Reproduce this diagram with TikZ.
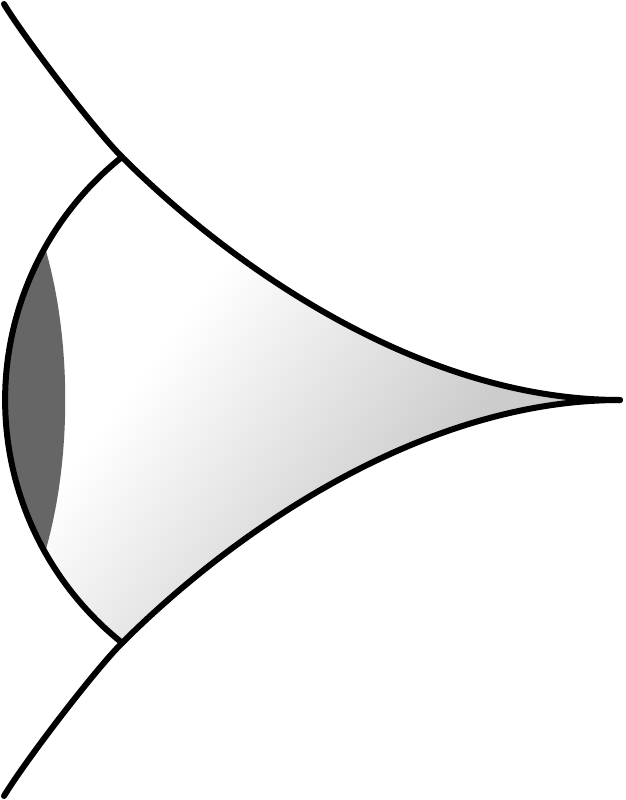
\documentclass[tikz,border=0pt]{standalone}
\pgfdeclarehorizontalshading{eyefade}{100bp}{color(0bp)=(white); color(37bp)=(white); color(63bp)=(black!20); color(100bp)=(black!20)}
\tikzset{edge/.style={line width=6pt, line cap=round}}
\begin{document}
\begin{tikzpicture}[x=1pt, y=-1pt]
\useasboundingbox (0,0) rectangle (626,800);
\coordinate (tl) at (4,4);
\coordinate (tj) at (122,157);
\coordinate (tip) at (620,400);
\coordinate (bj) at (122,643);
\coordinate (bl) at (4,796);
\coordinate (lt) at (45,247.4);
% eye region
\shade[shading=eyefade, shading angle=-37] (tj) .. controls (228,263) and (418,400) .. (tip)
  .. controls (418,400) and (228,537) .. (bj) arc[start angle=128.6, end angle=231.4, radius=310.8] -- cycle;
% lens
\fill[black!60] (lt) arc[start angle=209.4, end angle=150.6, radius=310.8] .. controls (72,460) and (72,340) .. (lt);
% outline
\draw[edge] (tl) .. controls (24.7,38.2) and (93.7,128.7) .. (tj) .. controls (228,263) and (418,400) .. (tip);
\draw[edge] (bl) .. controls (24.7,761.8) and (93.7,671.3) .. (bj) .. controls (228,537) and (418,400) .. (tip);
\draw[edge] (tj) arc[start angle=231.4, end angle=128.6, radius=310.8];
\end{tikzpicture}
\end{document}
